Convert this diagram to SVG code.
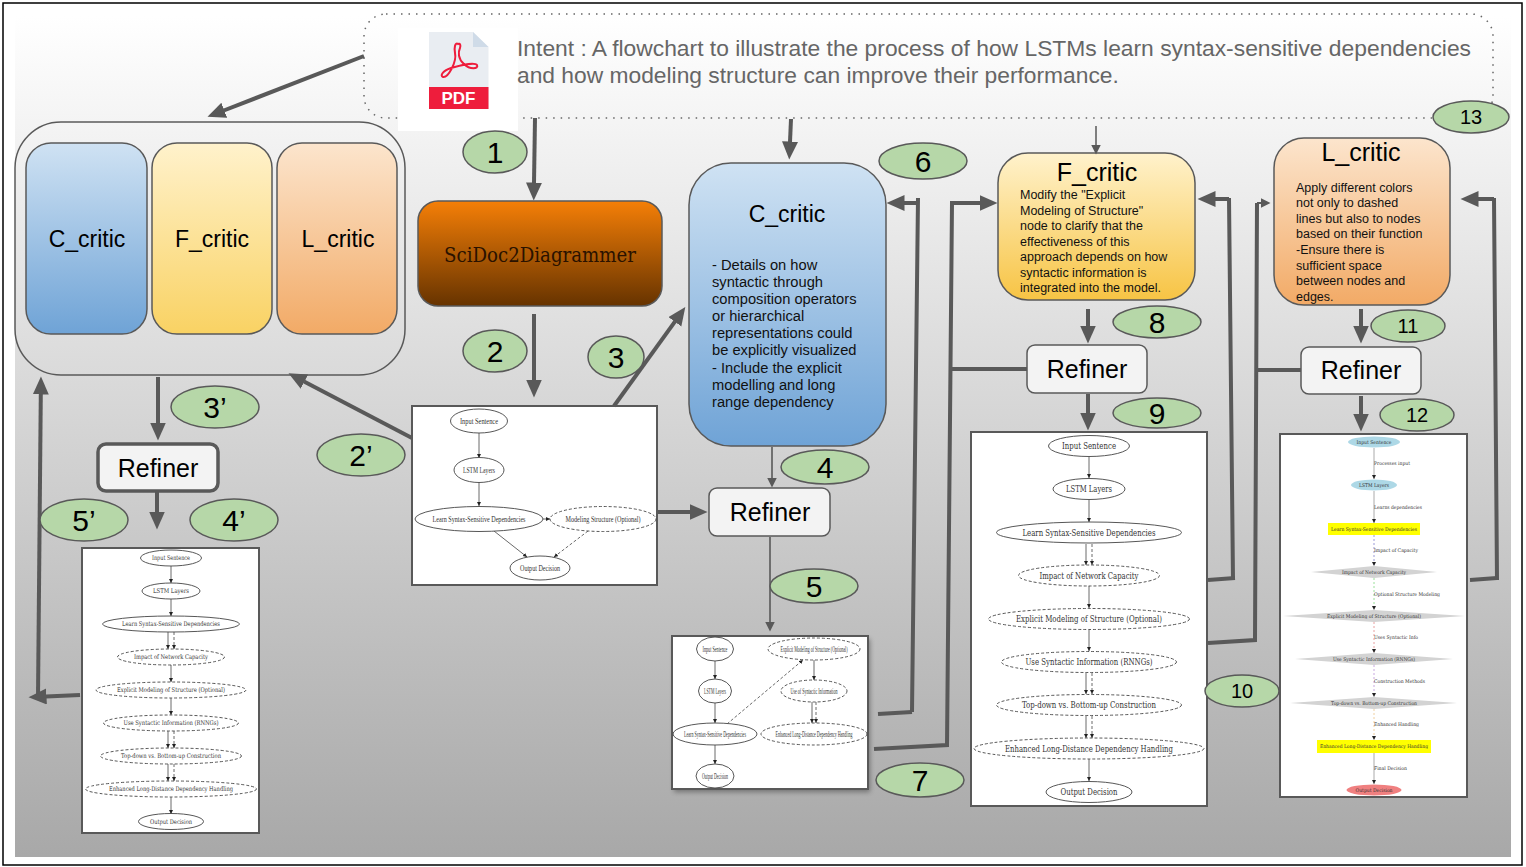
<svg xmlns="http://www.w3.org/2000/svg" width="1526" height="867" viewBox="0 0 1526 867">
<style>
text{font-family:"Liberation Sans",Arial,sans-serif;fill:#000}
.c{stroke:#595959;fill:none}
.t1{stroke-width:4;marker-end:url(#ah)}
.t0{stroke-width:4}
.t2{stroke-width:2;marker-end:url(#as)}
.t3{stroke-width:1.6;marker-end:url(#as)}
.badge ellipse{fill:#b6d7a8;stroke:#595959;stroke-width:1.5}
.badge text{font-size:30px;text-anchor:middle}
.badge.sm text{font-size:20px}
.panel{stroke:#595959;stroke-width:1.5}
.ref rect{fill:#f3f3f3;stroke:#595959;stroke-width:1.5}
.ref text{font-size:25px;text-anchor:middle}
.tt{text-anchor:middle}
.body{font-size:14.7px;fill:#111}
.small{font-size:12.5px;fill:#111}
.shot{fill:#fff;stroke:#595959;stroke-width:2}
.g ellipse{fill:#fff;stroke:#444;stroke-width:.9}
.g .d{stroke-dasharray:3 2}
.g text{font-family:"DejaVu Serif","Liberation Serif",serif;text-anchor:middle;fill:#333}
.g line{stroke:#444;stroke-width:.8;marker-end:url(#ag)}
.g line.d{stroke-dasharray:3 2}
.cond text{font-family:"Liberation Serif",serif;lengthAdjust:spacingAndGlyphs}
.e text{font-size:5px}
.e line{stroke:#aaa;stroke-width:1}
.e .lab{text-anchor:start}
</style>
<defs>
<linearGradient id="bg" x1="0" y1="0" x2="0" y2="1"><stop offset="0" stop-color="#fff"/><stop offset="1" stop-color="#a8a8a8"/></linearGradient>
<linearGradient id="gb" x1="0" y1="0" x2="0" y2="1"><stop offset="0" stop-color="#cfe2f3"/><stop offset="1" stop-color="#6fa3d6"/></linearGradient>
<linearGradient id="gy" x1="0" y1="0" x2="0" y2="1"><stop offset="0" stop-color="#fff2cc"/><stop offset="1" stop-color="#f9d263"/></linearGradient>
<linearGradient id="gy2" x1="0" y1="0" x2="0" y2="1"><stop offset="0" stop-color="#fff2cc"/><stop offset="1" stop-color="#f7c444"/></linearGradient>
<linearGradient id="go" x1="0" y1="0" x2="0" y2="1"><stop offset="0" stop-color="#fce5cd"/><stop offset="1" stop-color="#f2aa66"/></linearGradient>
<linearGradient id="gs" x1="0" y1="0" x2="0" y2="1"><stop offset="0" stop-color="#f57f07"/><stop offset="1" stop-color="#663300"/></linearGradient>
<filter id="sh" x="-5%" y="-5%" width="110%" height="112%"><feGaussianBlur stdDeviation="2.5"/></filter>
<marker id="ah" markerUnits="userSpaceOnUse" markerWidth="20" markerHeight="18" refX="0.5" refY="8" orient="auto"><path d="M0,0 L18,8 L0,16 z" fill="#595959"/></marker>
<marker id="as" markerUnits="userSpaceOnUse" markerWidth="12" markerHeight="12" refX="0.5" refY="5" orient="auto"><path d="M0,0 L10,5 L0,10 z" fill="#595959"/></marker>
<marker id="ag" markerUnits="userSpaceOnUse" markerWidth="6" markerHeight="6" refX="4" refY="2" orient="auto"><path d="M0,0 L4,2 L0,4 z" fill="#222"/></marker>
</defs>

<g id="backdrop">
<rect x="3" y="3" width="1519" height="862" fill="#fff" stroke="#000" stroke-width="1.5"/>
<rect x="15" y="16" width="1496" height="841" fill="url(#bg)"/>
</g>

<g id="intent">
<rect x="364" y="14" width="1129" height="104" rx="22" fill="none" stroke="#666" stroke-width="1.5" stroke-dasharray="1.5 6"/>
<rect x="398" y="28" width="120" height="103" fill="#fff"/>
<path d="M429,32 H473 L488.500,47 V109 H429 Z" fill="#e9edf2"/>
<path d="M473,32 L488.500,47 H473 Z" fill="#cfdbe8"/>
<rect x="429" y="87" width="59.500" height="22" fill="#ee1d3c"/>
<path d="M458,44 c-3,-2 -4,4 -3,9 c2,9 -7,25 -12,24 c-3,-1 -1,-6 8,-9 c10,-3 24,-6 26,-3 c2,4 -7,5 -13,-1 c-6,-5 -6,-12 -4,-16 c1,-3 0,-5 -2,-4 Z" fill="none" stroke="#ee1d3c" stroke-width="2"/>
<text x="458.500" y="104" class="tt" font-size="17" font-weight="bold" style="fill:#fff">PDF</text>
<text x="517" y="56" font-size="22.800" style="fill:#666" textLength="954" lengthAdjust="spacingAndGlyphs">Intent : A flowchart to illustrate the process of how LSTMs learn syntax-sensitive dependencies</text>
<text x="517" y="83" font-size="22.800" style="fill:#666">and how modeling structure can improve their performance.</text>
</g>

<g id="critics-group">
<rect x="15" y="122" width="390" height="253" rx="46" fill="none" stroke="#595959" stroke-width="1.5"/>
<rect class="panel" x="26" y="143" width="121" height="191" rx="25" fill="url(#gb)"/>
<rect class="panel" x="152" y="143" width="120" height="191" rx="25" fill="url(#gy)"/>
<rect class="panel" x="277" y="143" width="120" height="191" rx="25" fill="url(#go)"/>
<text x="87" y="247" class="tt" font-size="23">C_critic</text>
<text x="212" y="247" class="tt" font-size="23">F_critic</text>
<text x="338" y="247" class="tt" font-size="23">L_critic</text>
</g>

<g id="scidoc">
<rect class="panel" x="418" y="201" width="244" height="105" rx="20" fill="url(#gs)"/>
<text x="540" y="262" class="tt" font-size="21" textLength="192" lengthAdjust="spacingAndGlyphs" style="font-family:'DejaVu Serif','Liberation Serif',serif;fill:#2a1200">SciDoc2Diagrammer</text>
</g>

<g id="c-critic">
<rect class="panel" x="689" y="163" width="197" height="283" rx="42" fill="url(#gb)"/>
<text x="787" y="222" class="tt" font-size="23">C_critic</text>
<text class="body" x="712" y="270">- Details on how</text>
<text class="body" x="712" y="287">syntactic through</text>
<text class="body" x="712" y="304">composition operators</text>
<text class="body" x="712" y="321">or hierarchical</text>
<text class="body" x="712" y="338">representations could</text>
<text class="body" x="712" y="355">be explicitly visualized</text>
<text class="body" x="712" y="373">- Include the explicit</text>
<text class="body" x="712" y="390">modelling and long</text>
<text class="body" x="712" y="407">range dependency</text>
</g>

<g id="f-critic">
<rect class="panel" x="998" y="153" width="197" height="147" rx="30" fill="url(#gy2)"/>
<text x="1097" y="181" class="tt" font-size="25">F_critic</text>
<text class="small" x="1020" y="199">Modify the "Explicit</text>
<text class="small" x="1020" y="215">Modeling of Structure"</text>
<text class="small" x="1020" y="230">node to clarify that the</text>
<text class="small" x="1020" y="246">effectiveness of this</text>
<text class="small" x="1020" y="261">approach depends on how</text>
<text class="small" x="1020" y="277">syntactic information is</text>
<text class="small" x="1020" y="292">integrated into the model.</text>
</g>

<g id="l-critic">
<rect class="panel" x="1274" y="138" width="176" height="167" rx="30" fill="url(#go)"/>
<text x="1361" y="161" class="tt" font-size="25">L_critic</text>
<text class="small" x="1296" y="192">Apply different colors</text>
<text class="small" x="1296" y="207">not only to dashed</text>
<text class="small" x="1296" y="223">lines but also to nodes</text>
<text class="small" x="1296" y="238">based on their function</text>
<text class="small" x="1296" y="254">-Ensure there is</text>
<text class="small" x="1296" y="270">sufficient space</text>
<text class="small" x="1296" y="285">between nodes and</text>
<text class="small" x="1296" y="301">edges.</text>
</g>

<g id="refiner-0" class="ref"><rect x="98" y="444" width="120" height="47" rx="8" style="stroke-width:3.500"/><text x="158" y="477">Refiner</text></g>
<g id="refiner-1" class="ref"><rect x="709" y="488" width="121" height="48" rx="8"/><text x="770" y="521">Refiner</text></g>
<g id="refiner-2" class="ref"><rect x="1027" y="345" width="120" height="48" rx="8"/><text x="1087" y="378">Refiner</text></g>
<g id="refiner-3" class="ref"><rect x="1301" y="347" width="120" height="47" rx="8"/><text x="1361" y="379">Refiner</text></g>

<g id="graph-a" class="g cond">
<rect class="shot" x="412" y="406" width="245" height="179"/>
<line x1="479" y1="433" x2="479" y2="458"/><line x1="479" y1="482" x2="479" y2="506"/>
<line x1="543" y1="519" x2="550" y2="519"/><line x1="494" y1="531" x2="527" y2="557"/><line class="d" x1="588" y1="531" x2="554" y2="557"/>
<g id="a-input"><ellipse cx="479" cy="421" rx="28.500" ry="12"/><text transform="translate(479,424) scale(.64,1)" font-size="9" textLength="59.400" lengthAdjust="spacingAndGlyphs">Input Sentence</text></g>
<g id="a-lstm"><ellipse cx="479" cy="470" rx="25" ry="12.500"/><text transform="translate(479,473) scale(.64,1)" font-size="9" textLength="50" lengthAdjust="spacingAndGlyphs">LSTM Layers</text></g>
<g id="a-learn"><ellipse cx="479" cy="519" rx="64" ry="12.500"/><text transform="translate(479,522) scale(.64,1)" font-size="9" textLength="145.300" lengthAdjust="spacingAndGlyphs">Learn Syntax-Sensitive Dependencies</text></g>
<g id="a-model"><ellipse class="d" cx="603" cy="519" rx="53" ry="12.500"/><text transform="translate(603,522) scale(.64,1)" font-size="9" textLength="117.200" lengthAdjust="spacingAndGlyphs">Modeling Structure (Optional)</text></g>
<g id="a-output"><ellipse cx="540" cy="568" rx="30" ry="12"/><text transform="translate(540,571) scale(.64,1)" font-size="9" textLength="62.500" lengthAdjust="spacingAndGlyphs">Output Decision</text></g>
</g>

<g id="graph-b" class="g cond">
<rect x="674" y="639" width="196" height="153" fill="#000" opacity=".35" filter="url(#sh)"/>
<rect class="shot" x="672" y="636" width="196" height="153"/>
<line x1="715" y1="661" x2="715" y2="679"/><line x1="715" y1="703" x2="715" y2="723"/><line x1="715" y1="745" x2="715" y2="764"/>
<line class="d" x1="727" y1="724" x2="803" y2="660"/><line x1="814" y1="660" x2="814" y2="680"/>
<line x1="812" y1="702" x2="812" y2="723"/><line class="d" x1="816" y1="702" x2="816" y2="723"/>
<g id="b-input"><ellipse cx="715" cy="649" rx="18.500" ry="12"/><text transform="translate(715,651.500) scale(.52,1)" font-size="7.500" textLength="48" lengthAdjust="spacingAndGlyphs">Input Sentence</text></g>
<g id="b-lstm"><ellipse cx="715" cy="691" rx="16.500" ry="12"/><text transform="translate(715,693.500) scale(.52,1)" font-size="7.500" textLength="42.300" lengthAdjust="spacingAndGlyphs">LSTM Layers</text></g>
<g id="b-learn"><ellipse cx="715" cy="734" rx="42" ry="11"/><text transform="translate(715,736.500) scale(.52,1)" font-size="7.500" textLength="119.200" lengthAdjust="spacingAndGlyphs">Learn Syntax-Sensitive Dependencies</text></g>
<g id="b-output"><ellipse cx="715" cy="776" rx="19" ry="12"/><text transform="translate(715,778.500) scale(.52,1)" font-size="7.500" textLength="50" lengthAdjust="spacingAndGlyphs">Output Decision</text></g>
<g id="b-explicit"><ellipse class="d" cx="814" cy="649" rx="46" ry="11"/><text transform="translate(814,651.500) scale(.52,1)" font-size="7.500" textLength="128.800" lengthAdjust="spacingAndGlyphs">Explicit Modeling of Structure (Optional)</text></g>
<g id="b-use"><ellipse class="d" cx="814" cy="691" rx="33" ry="11"/><text transform="translate(814,693.500) scale(.52,1)" font-size="7.500" textLength="90.400" lengthAdjust="spacingAndGlyphs">Use of Syntactic Information</text></g>
<g id="b-enh"><ellipse class="d" cx="814" cy="734" rx="53" ry="11"/><text transform="translate(814,736.500) scale(.52,1)" font-size="7.500" textLength="148.100" lengthAdjust="spacingAndGlyphs">Enhanced Long-Distance Dependency Handling</text></g>
</g>

<g id="graph-c" class="g">
<rect class="shot" x="82" y="548" width="177" height="285"/>
<line x1="171" y1="566" x2="171" y2="583"/><line x1="171" y1="599" x2="171" y2="616"/>
<line x1="168" y1="632" x2="168" y2="649"/><line class="d" x1="174" y1="632" x2="174" y2="649"/>
<line x1="171" y1="665" x2="171" y2="682"/><line x1="171" y1="698" x2="171" y2="715"/>
<line x1="168" y1="731" x2="168" y2="748"/><line class="d" x1="174" y1="731" x2="174" y2="748"/>
<line x1="168" y1="764" x2="168" y2="781"/><line class="d" x1="174" y1="764" x2="174" y2="781"/>
<line x1="171" y1="797" x2="171" y2="814"/>
<g id="c-input"><ellipse cx="171" cy="558" rx="30.500" ry="8"/><text x="171" y="560.200" font-size="6.500" textLength="38" lengthAdjust="spacingAndGlyphs">Input Sentence</text></g>
<g id="c-lstm"><ellipse cx="171" cy="591" rx="29" ry="8"/><text x="171" y="593.200" font-size="6.500" textLength="36" lengthAdjust="spacingAndGlyphs">LSTM Layers</text></g>
<g id="c-learn"><ellipse cx="171" cy="624" rx="68.500" ry="8"/><text x="171" y="626.200" font-size="6.500" textLength="98" lengthAdjust="spacingAndGlyphs">Learn Syntax-Sensitive Dependencies</text></g>
<g id="c-impact"><ellipse class="d" cx="171" cy="657" rx="53.500" ry="8"/><text x="171" y="659.200" font-size="6.500" textLength="74" lengthAdjust="spacingAndGlyphs">Impact of Network Capacity</text></g>
<g id="c-explicit"><ellipse class="d" cx="171" cy="690" rx="75" ry="8"/><text x="171" y="692.200" font-size="6.500" textLength="108" lengthAdjust="spacingAndGlyphs">Explicit Modeling of Structure (Optional)</text></g>
<g id="c-use"><ellipse class="d" cx="171" cy="723" rx="67.500" ry="8"/><text x="171" y="725.200" font-size="6.500" textLength="95" lengthAdjust="spacingAndGlyphs">Use Syntactic Information (RNNGs)</text></g>
<g id="c-top"><ellipse class="d" cx="171" cy="756" rx="70.500" ry="8"/><text x="171" y="758.200" font-size="6.500" textLength="100" lengthAdjust="spacingAndGlyphs">Top-down vs. Bottom-up Construction</text></g>
<g id="c-enh"><ellipse class="d" cx="171" cy="789" rx="85.500" ry="8"/><text x="171" y="791.200" font-size="6.500" textLength="124" lengthAdjust="spacingAndGlyphs">Enhanced Long-Distance Dependency Handling</text></g>
<g id="c-output"><ellipse cx="171" cy="821.500" rx="32.500" ry="8"/><text x="171" y="823.700" font-size="6.500" textLength="42" lengthAdjust="spacingAndGlyphs">Output Decision</text></g>
</g>

<g id="graph-d" class="g">
<rect class="shot" x="971" y="432" width="236" height="374"/>
<line x1="1089" y1="457" x2="1089" y2="478"/><line x1="1089" y1="500" x2="1089" y2="522"/>
<line x1="1086" y1="544" x2="1086" y2="565"/><line class="d" x1="1092" y1="544" x2="1092" y2="565"/>
<line x1="1089" y1="586" x2="1089" y2="608"/><line x1="1089" y1="630" x2="1089" y2="651"/>
<line x1="1086" y1="673" x2="1086" y2="694"/><line class="d" x1="1092" y1="673" x2="1092" y2="694"/>
<line x1="1086" y1="716" x2="1086" y2="738"/><line class="d" x1="1092" y1="716" x2="1092" y2="738"/>
<line x1="1089" y1="759" x2="1089" y2="781"/>
<g id="d-input"><ellipse cx="1089" cy="446" rx="40.500" ry="10.500"/><text x="1089" y="449" font-size="8.500" textLength="54" lengthAdjust="spacingAndGlyphs">Input Sentence</text></g>
<g id="d-lstm"><ellipse cx="1089" cy="489" rx="36" ry="10.500"/><text x="1089" y="492" font-size="8.500" textLength="46" lengthAdjust="spacingAndGlyphs">LSTM Layers</text></g>
<g id="d-learn"><ellipse cx="1089" cy="532.500" rx="92.500" ry="10.500"/><text x="1089" y="535.500" font-size="8.500" textLength="133" lengthAdjust="spacingAndGlyphs">Learn Syntax-Sensitive Dependencies</text></g>
<g id="d-impact"><ellipse class="d" cx="1089" cy="575.500" rx="70.500" ry="10.500"/><text x="1089" y="578.500" font-size="8.500" textLength="99" lengthAdjust="spacingAndGlyphs">Impact of Network Capacity</text></g>
<g id="d-explicit"><ellipse class="d" cx="1089" cy="619" rx="100.500" ry="10.500"/><text x="1089" y="622" font-size="8.500" textLength="146" lengthAdjust="spacingAndGlyphs">Explicit Modeling of Structure (Optional)</text></g>
<g id="d-use"><ellipse class="d" cx="1089" cy="662" rx="87.500" ry="10.500"/><text x="1089" y="665" font-size="8.500" textLength="127" lengthAdjust="spacingAndGlyphs">Use Syntactic Information (RNNGs)</text></g>
<g id="d-top"><ellipse class="d" cx="1089" cy="705" rx="92.500" ry="10.500"/><text x="1089" y="708" font-size="8.500" textLength="134" lengthAdjust="spacingAndGlyphs">Top-down vs. Bottom-up Construction</text></g>
<g id="d-enh"><ellipse class="d" cx="1089" cy="748.500" rx="115" ry="10.500"/><text x="1089" y="751.500" font-size="8.500" textLength="168" lengthAdjust="spacingAndGlyphs">Enhanced Long-Distance Dependency Handling</text></g>
<g id="d-output"><ellipse cx="1089" cy="792" rx="43" ry="10.500"/><text x="1089" y="795" font-size="8.500" textLength="57" lengthAdjust="spacingAndGlyphs">Output Decision</text></g>
</g>

<g id="graph-e" class="g e">
<rect class="shot" x="1280" y="434" width="187" height="363"/>
<line x1="1374" y1="448" x2="1374" y2="479"/><line x1="1374" y1="491" x2="1374" y2="523"/>
<line x1="1374" y1="535" x2="1374" y2="566" style="stroke:#9a9ad8;stroke-dasharray:2 2"/>
<line x1="1374" y1="578" x2="1374" y2="610" style="stroke:#9ae09a;stroke-dasharray:2 2"/>
<line x1="1374" y1="622" x2="1374" y2="653" style="stroke:#e8a0a0;stroke-dasharray:2 2"/>
<line x1="1374" y1="665" x2="1374" y2="697" style="stroke:#c8a8e0;stroke-dasharray:2 2"/>
<line x1="1374" y1="709" x2="1374" y2="740" style="stroke:#f0d0a0;stroke-dasharray:2 2"/>
<line x1="1374" y1="753" x2="1374" y2="784"/>
<text class="lab" x="1374" y="465" textLength="36" lengthAdjust="spacingAndGlyphs">Processes input</text>
<text class="lab" x="1374" y="509" textLength="48" lengthAdjust="spacingAndGlyphs">Learns dependencies</text>
<text class="lab" x="1374" y="552" textLength="44" lengthAdjust="spacingAndGlyphs">Impact of Capacity</text>
<text class="lab" x="1374" y="596" textLength="66" lengthAdjust="spacingAndGlyphs">Optional Structure Modeling</text>
<text class="lab" x="1374" y="639" textLength="44" lengthAdjust="spacingAndGlyphs">Uses Syntactic Info</text>
<text class="lab" x="1374" y="683" textLength="51" lengthAdjust="spacingAndGlyphs">Construction Methods</text>
<text class="lab" x="1374" y="726" textLength="45" lengthAdjust="spacingAndGlyphs">Enhanced Handling</text>
<text class="lab" x="1374" y="770" textLength="33" lengthAdjust="spacingAndGlyphs">Final Decision</text>
<g id="e-input"><ellipse cx="1374" cy="442" rx="26" ry="5.500" style="fill:#add8e6;stroke:none"/><text x="1374" y="444" textLength="35" lengthAdjust="spacingAndGlyphs">Input Sentence</text></g>
<g id="e-lstm"><ellipse cx="1374" cy="485" rx="23" ry="5.500" style="fill:#add8e6;stroke:none"/><text x="1374" y="487" textLength="30" lengthAdjust="spacingAndGlyphs">LSTM Layers</text></g>
<g id="e-learn"><rect x="1328" y="523" width="92" height="12" fill="#ffff00"/><text x="1374" y="531" textLength="86" lengthAdjust="spacingAndGlyphs">Learn Syntax-Sensitive Dependencies</text></g>
<g id="e-impact"><polygon points="1311,572 1374,566 1437,572 1374,578" fill="#d3d3d3"/><text x="1374" y="574" textLength="64" lengthAdjust="spacingAndGlyphs">Impact of Network Capacity</text></g>
<g id="e-explicit"><polygon points="1283,616 1374,610 1465,616 1374,622" fill="#d3d3d3"/><text x="1374" y="618" textLength="94" lengthAdjust="spacingAndGlyphs">Explicit Modeling of Structure (Optional)</text></g>
<g id="e-use"><polygon points="1295,659 1374,653 1453,659 1374,665" fill="#d3d3d3"/><text x="1374" y="661" textLength="82" lengthAdjust="spacingAndGlyphs">Use Syntactic Information (RNNGs)</text></g>
<g id="e-top"><polygon points="1290,703 1374,697 1457,703 1374,709" fill="#d3d3d3"/><text x="1374" y="705" textLength="86" lengthAdjust="spacingAndGlyphs">Top-down vs. Bottom-up Construction</text></g>
<g id="e-enh"><rect x="1317" y="740" width="114" height="13" fill="#ffff00"/><text x="1374" y="748" textLength="108" lengthAdjust="spacingAndGlyphs">Enhanced Long-Distance Dependency Handling</text></g>
<g id="e-output"><ellipse cx="1374" cy="790" rx="27.500" ry="5.500" style="fill:#f08080;stroke:none"/><text x="1374" y="792" textLength="37" lengthAdjust="spacingAndGlyphs">Output Decision</text></g>
</g>

<g id="connectors">
<path class="c t1" d="M364,56 L223.800,110.500"/>
<path class="c t1" d="M535,118 L534,183"/>
<path class="c t1" d="M534,314 L534,380"/>
<path class="c t1" d="M614,406 L675.100,321.300"/>
<path class="c t1" d="M412,438 L304,381.400"/>
<path class="c t1" d="M158,377 L158,423"/>
<path class="c t1" d="M157,491 L157,512"/>
<path class="c t1" d="M80,695 L46,696.500"/>
<path class="c t1" d="M38,697 L40.800,394"/>
<path class="c t1" d="M657,512 L690,512"/>
<path class="c t3" d="M772,447 L772,478"/>
<path class="c t3" d="M770,537 L770,622"/>
<path class="c t1" d="M791,119 L790,142"/>
<path class="c" stroke-width="1.500" d="M1096,126 L1096,145" marker-end="url(#as)"/>
<path class="c t0" d="M878,714 L912,712"/>
<path class="c t1" d="M912,712 L918,198 M918,203 L904,203"/>
<path class="c t0" d="M874,749 L947,745 L952,203"/>
<path class="c t1" d="M950,203 L980,203"/>
<path class="c t0" d="M952,369 L1027,369"/>
<path class="c t0" d="M1208,580 L1235,578"/>
<path class="c t1" d="M1233,580 L1229,198 M1229,199 L1215,199"/>
<path class="c t0" d="M1208,643 L1255,640 L1257,203"/>
<path class="c t2" d="M1257,203 L1261,203"/>
<path class="c t0" d="M1258,370 L1301,370"/>
<path class="c t0" d="M1470,580 L1497,578"/>
<path class="c t1" d="M1497,580 L1494,198 M1494,199 L1478,199"/>
<path class="c t1" d="M1088,309 L1088,326"/>
<path class="c t1" d="M1088,394 L1088,413"/>
<path class="c t1" d="M1361,309 L1361,326"/>
<path class="c t1" d="M1361,396 L1361,414"/>
</g>

<g id="badges">
<g id="b1" class="badge"><ellipse cx="495" cy="152" rx="32" ry="21"/><text x="495" y="163">1</text></g>
<g id="b2" class="badge"><ellipse cx="495" cy="351" rx="32" ry="21"/><text x="495" y="362">2</text></g>
<g id="b3" class="badge"><ellipse cx="616" cy="357" rx="28" ry="21"/><text x="616" y="368">3</text></g>
<g id="b3p" class="badge"><ellipse cx="215" cy="407" rx="44" ry="21"/><text x="215" y="418">3’</text></g>
<g id="b2p" class="badge"><ellipse cx="361" cy="455" rx="44" ry="21"/><text x="361" y="466">2’</text></g>
<g id="b5p" class="badge"><ellipse cx="84" cy="520" rx="44" ry="21"/><text x="84" y="531">5’</text></g>
<g id="b4p" class="badge"><ellipse cx="234" cy="520" rx="44" ry="21"/><text x="234" y="531">4’</text></g>
<g id="b4" class="badge"><ellipse cx="825" cy="467" rx="44" ry="17"/><text x="825" y="478">4</text></g>
<g id="b5" class="badge"><ellipse cx="814" cy="586" rx="44" ry="17"/><text x="814" y="597">5</text></g>
<g id="b6" class="badge"><ellipse cx="923" cy="161" rx="44" ry="18"/><text x="923" y="172">6</text></g>
<g id="b7" class="badge"><ellipse cx="920" cy="780" rx="44" ry="17"/><text x="920" y="791">7</text></g>
<g id="b8" class="badge"><ellipse cx="1157" cy="322" rx="44" ry="16"/><text x="1157" y="333">8</text></g>
<g id="b9" class="badge"><ellipse cx="1157" cy="413" rx="44" ry="15"/><text x="1157" y="424">9</text></g>
<g id="b10" class="badge sm"><ellipse cx="1242" cy="691" rx="37" ry="16"/><text x="1242" y="698">10</text></g>
<g id="b11" class="badge sm"><ellipse cx="1408" cy="326" rx="37" ry="16"/><text x="1408" y="333">11</text></g>
<g id="b12" class="badge sm"><ellipse cx="1417" cy="415" rx="37" ry="16"/><text x="1417" y="422">12</text></g>
<g id="b13" class="badge sm"><ellipse cx="1471" cy="117" rx="38" ry="16"/><text x="1471" y="124">13</text></g>
</g>
</svg>
